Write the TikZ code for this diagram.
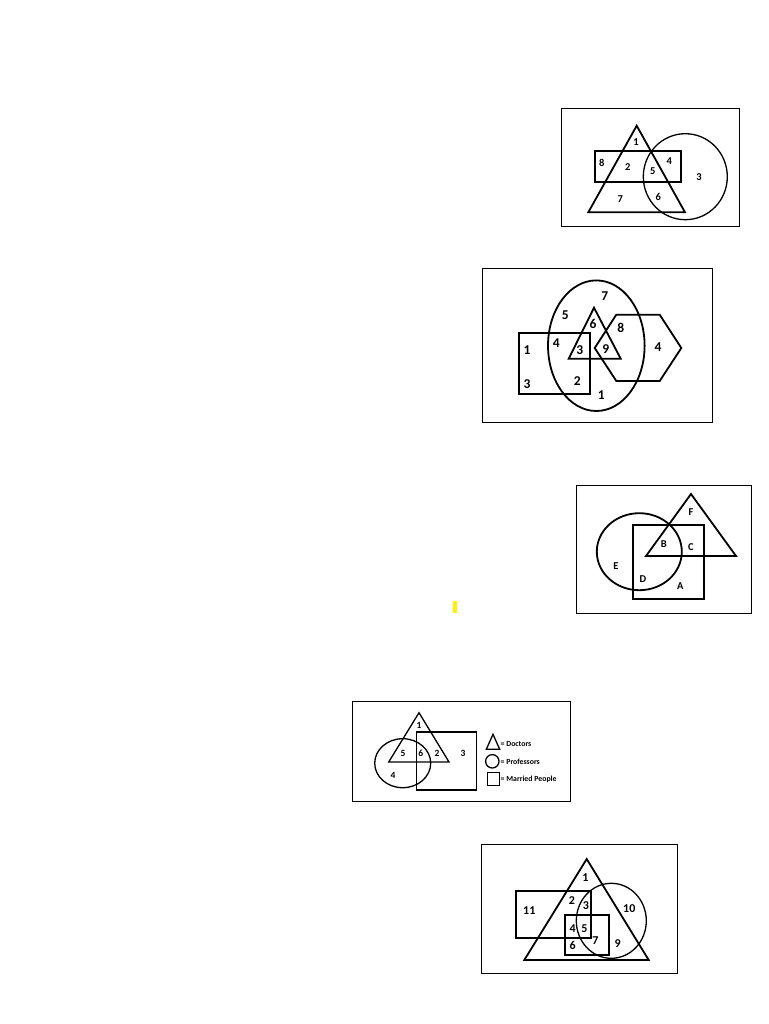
\documentclass[tikz,border=0pt]{standalone}
\usepackage{fontspec}
\setmainfont{Carlito}
\begin{document}
\begin{tikzpicture}[x=1pt,y=-1pt,
  panel/.style={draw=black,line width=1pt},
  shp/.style={draw=black,line width=1.8pt},
  thn/.style={draw=black,line width=1.3pt},
  lbl/.style={font=\bfseries\fontsize{10.5}{10.5}\selectfont,inner sep=0pt},
  lblb/.style={font=\bfseries\fontsize{13.5}{13.5}\selectfont,inner sep=0pt},
  lblc/.style={font=\bfseries\fontsize{9.5}{9.5}\selectfont,inner sep=0pt},
  lbld/.style={font=\bfseries\fontsize{12}{12}\selectfont,inner sep=0pt},
  leg/.style={font=\bfseries\fontsize{7.8}{7.8}\selectfont,inner sep=0pt,anchor=west}]
\useasboundingbox[fill=white] (0,0) rectangle (768,1024);

% ---------- Panel 1 ----------
\draw[panel] (561,109) rectangle (739,227);
\draw[shp] (636.7,125.7) -- (588.3,212.3) -- (685,212.3) -- cycle;
\draw[shp] (595,150.7) rectangle (681,182.3);
\draw[thn] (685.3,176.7) ellipse [x radius=42, y radius=43];
\node[lbl] (a1) at (636,141.7) {1};
\node[lbl] (a8) at (601.7,162.7) {8};
\node[lbl] (a2) at (627.7,166.7) {2};
\node[lbl] (a5) at (652.7,171) {5};
\node[lbl] (a4) at (669.3,161) {4};
\node[lbl] (a3) at (699,176.7) {3};
\node[lbl] (a7) at (620.3,199.3) {7};
\node[lbl] (a6) at (658.3,196.7) {6};

% ---------- Panel 2 ----------
\draw[panel] (482.5,268.5) rectangle (712.5,422.5);
\draw[shp] (596.3,345.7) ellipse [x radius=48.3, y radius=65.3];
\draw[shp] (518.7,332.7) rectangle (590.3,394.3);
\draw[shp] (594,307.7) -- (568.7,358.7) -- (620.7,358.7) -- cycle;
\draw[shp] (616.3,314.7) -- (659.7,314.7) -- (681.3,348) -- (659.7,381) -- (616.3,381) -- (594.7,348) -- cycle;
\node[lblb] (b7) at (604.7,296) {7};
\node[lblb] (b5) at (565.3,314.7) {5};
\node[lblb] (b6) at (593,323.7) {6};
\node[lblb] (b8) at (620.7,328) {8};
\node[lblb] (b1) at (527,350.3) {1};
\node[lblb] (b4) at (556.3,342.7) {4};
\node[lblb] (b3) at (579.7,350.3) {3};
\node[lblb] (b9) at (605.7,349.3) {9};
\node[lblb] (b4b) at (658,347.3) {4};
\node[lblb] (b3b) at (527,383.7) {3};
\node[lblb] (b2) at (577.3,381) {2};
\node[lblb] (b1b) at (601.3,395.3) {1};

% ---------- Panel 3 ----------
\draw[panel] (576.5,485) rectangle (751.5,613.3);
\draw[shp] (639.3,551.7) ellipse [x radius=42.5, y radius=38.5];
\draw[shp] (632.7,525) rectangle (704.3,599.3);
\draw[shp] (691,494) -- (646,556) -- (736,556) -- cycle;
\node[lbl] (cF) at (691,512.3) {F};
\node[lbl] (cB) at (663.7,544) {B};
\node[lbl] (cC) at (691,546.7) {C};
\node[lbl] (cE) at (616,566) {E};
\node[lbl] (cD) at (643,579) {D};
\node[lbl] (cA) at (680.3,586) {A};
\fill[yellow] (452.7,601) rectangle (456.7,612.7);

% ---------- Panel 4 ----------
\draw[panel] (352.7,701.7) rectangle (570.7,801.7);
\draw[thn] (419,712.7) -- (388.7,762) -- (449,762) -- cycle;
\draw[thn] (402.7,763.2) ellipse [x radius=28, y radius=24.5];
\draw[thn] (416.3,732) rectangle (476.3,790);
\node[lblc] (d1) at (419,725.3) {1};
\node[lblc] (d5) at (403,753.3) {5};
\node[lblc] (d6) at (420.7,753.3) {6};
\node[lblc] (d2) at (437,753.3) {2};
\node[lblc] (d3) at (463,753.3) {3};
\node[lblc] (d4) at (393,775.3) {4};
\draw[thn] (493,734.3) -- (486.3,749.3) -- (499.7,749.3) -- cycle;
\draw[thn] (492.3,761.3) circle [radius=6.7];
\draw[thn] (487.3,772.7) rectangle (499.7,785.3);
\node[leg] (l1) at (500.5,743.5) {= Doctors};
\node[leg] (l2) at (500.5,761.5) {= Professors};
\node[leg] (l3) at (500.5,779) {= Married People};

% ---------- Panel 5 ----------
\draw[panel] (481,844.5) rectangle (677,973.3);
\draw[shp] (586.7,859) -- (524.3,960) -- (648.7,960) -- cycle;
\draw[shp] (516,891) rectangle (591,938.3);
\draw[thn] (611.3,920.8) ellipse [x radius=35, y radius=37.5];
\draw[shp] (565.3,915) rectangle (608.7,955);
\node[lbld] (e1) at (585.3,877.7) {1};
\node[lbld] (e2) at (572,901) {2};
\node[lbld] (e3) at (586,905.3) {3};
\node[lbld] (e11) at (529.3,910.7) {11};
\node[lbld] (e10) at (629.3,909) {10};
\node[lbld] (e4) at (572.7,929) {4};
\node[lbld] (e5) at (584.3,929) {5};
\node[lbld] (e6) at (572.7,945) {6};
\node[lbld] (e7) at (595.3,941) {7};
\node[lbld] (e9) at (617.7,944) {9};
\end{tikzpicture}
\end{document}
